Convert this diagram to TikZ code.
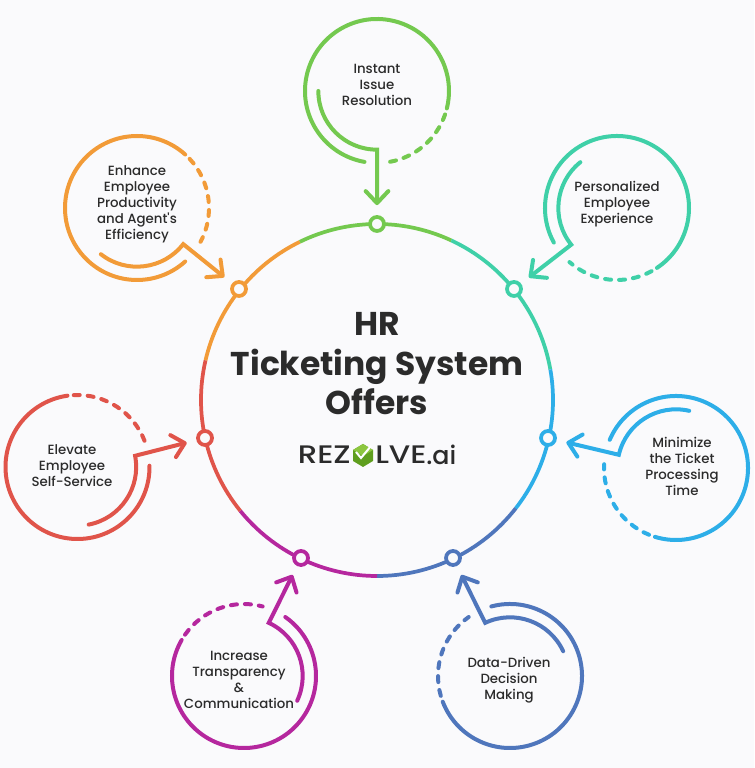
\documentclass[tikz,border=0pt]{standalone}
\usepackage{fontspec}
\setmainfont{Poppins}
\newfontfamily\offerfont{Poppins Medium}
\newfontfamily\logofont[FakeStretch=1.22]{Poppins Medium}
\usepackage{color}
\usetikzlibrary{calc,arrows.meta}
\definecolor{pagebg}{HTML}{FAFAFC}
\definecolor{textdark}{HTML}{2B2B2B}
\definecolor{offerorange}{HTML}{F29B38}
\definecolor{offergreen}{HTML}{74C94F}
\definecolor{offerteal}{HTML}{3FD0A8}
\definecolor{offerblue}{HTML}{2DAEE8}
\definecolor{offerindigo}{HTML}{4F76BC}
\definecolor{offerpurple}{HTML}{B5279E}
\definecolor{offerred}{HTML}{E0544A}
\definecolor{logogreen}{HTML}{5F9E1E}
\definecolor{logolight}{HTML}{8CC63F}
\tikzset{
  ringline/.style={line width=2.8pt},
  hub/.style={circle, draw=#1, fill=pagebg, line width=2.8pt, minimum size=10.5pt, inner sep=0pt},
  offerline/.style={line width=3pt, line cap=round},
  offerdash/.style={line width=3pt, line cap=round, dash pattern=on 4.5pt off 6pt},
  offerarrow/.style={line width=3pt, line cap=round, line join=miter, shorten >=7.5pt,
    -{Straight Barb[round,length=9pt,width=17pt]}},
  offertext/.style={align=center, inner sep=0pt, text=textdark, font=\offerfont\fontsize{10}{12}\selectfont},
  logotext/.style={inner sep=0pt, text=textdark, font=\logofont\fontsize{19}{19}\selectfont}
}
\newcommand{\offerloop}[5]{%
  \draw[offerline,#2] ([shift={(#3-10:54pt)}]#1) arc[start angle=#3-10,end angle=#3-#5,radius=54pt];
  \draw[offerdash,#2] ([shift={(#3-#5-5:54pt)}]#1) arc[start angle=#3-#5-5,end angle=#3-350,radius=54pt];
  \draw[offerarrow,#2] ([shift={(#3-90:44pt)}]#1) arc[start angle=#3-90,end angle=#3,radius=44pt] -- (#4);
}
\begin{document}
\begin{tikzpicture}[x=0.75pt, y=0.75pt]
\fill[pagebg] (0,0) rectangle (754,768);
\useasboundingbox (0,0) rectangle (754,768);

\coordinate (ring) at (377,368);
\draw[ringline, offerorange] ([shift={(167:132pt)}]ring) arc[start angle=167,end angle=116,radius=132pt];
\draw[ringline, offergreen] ([shift={(116:132pt)}]ring) arc[start angle=116,end angle=65,radius=132pt];
\draw[ringline, offerteal] ([shift={(65:132pt)}]ring) arc[start angle=65,end angle=10,radius=132pt];
\draw[ringline, offerblue] ([shift={(10:132pt)}]ring) arc[start angle=10,end angle=-38,radius=132pt];
\draw[ringline, offerindigo] ([shift={(-38:132pt)}]ring) arc[start angle=-38,end angle=-90,radius=132pt];
\draw[ringline, offerpurple] ([shift={(-90:132pt)}]ring) arc[start angle=-90,end angle=-141,radius=132pt];
\draw[ringline, offerred] ([shift={(-141:132pt)}]ring) arc[start angle=-141,end angle=-193,radius=132pt];

\node[hub=offergreen] (hubgreen) at (377,544) {};
\node[hub=offerteal] (hubteal) at (514,479) {};
\node[hub=offerblue] (hubblue) at (548,330) {};
\node[hub=offerindigo] (hubindigo) at (453,210) {};
\node[hub=offerpurple] (hubpurple) at (301,210) {};
\node[hub=offerred] (hubred) at (205,330) {};
\node[hub=offerorange] (huborange) at (239,479) {};

\coordinate (cgreen) at (377,677);
\coordinate (corange) at (137,560);
\coordinate (cteal) at (617,560);
\coordinate (cred) at (77.5,301);
\coordinate (cblue) at (676,300);
\coordinate (cpurple) at (244,92);
\coordinate (cindigo) at (510,92);
\offerloop{cgreen}{offergreen}{270}{hubgreen}{284}
\offerloop{corange}{offerorange}{-38}{huborange}{274}
\offerloop{cteal}{offerteal}{218.7}{hubteal}{275}
\offerloop{cred}{offerred}{11}{hubred}{273}
\offerloop{cblue}{offerblue}{167}{hubblue}{274}
\offerloop{cpurple}{offerpurple}{65}{hubpurple}{275}
\offerloop{cindigo}{offerindigo}{115}{hubindigo}{274}

\node[offertext] (txtgreen) at (377,683) {Instant\\Issue\\Resolution};
\node[offertext] (txtorange) at (137,564) {Enhance\\Employee\\Productivity\\and Agent's\\Efficiency};
\node[offertext] (txtteal) at (617,564) {Personalized\\Employee\\Experience};
\node[offertext] (txtred) at (72,302) {Elevate\\Employee\\Self-Service};
\node[offertext] (txtblue) at (682,302) {Minimize\\the Ticket\\Processing\\Time};
\node[offertext] (txtpurple) at (239,88) {Increase\\Transparency\\\&\\Communication};
\node[offertext] (txtindigo) at (509,88) {Data-Driven\\Decision\\Making};

\node[align=center, inner sep=0pt, text=textdark, font=\fontsize{24.7}{29.6}\selectfont\bfseries] (title) at (377,404)
{HR\\Ticketing System\\Offers};

\node[logotext, anchor=east] (logorez) at (351,313) {REZ};
\node[logotext, anchor=west] (logolve) at (375,313) {LVE};
\node[inner sep=0pt, text=textdark, font=\offerfont\fontsize{19}{19}\selectfont, anchor=west] (logoai) at (426,313) {.ai};
\fill[logogreen] (363,324) -- (373,318) -- (373,307) -- (363,301) -- (353,307) -- (353,318) -- cycle;
\fill[logolight] (363,324) -- (373,318) -- (363,312) -- (353,318) -- cycle;
\draw[white, line width=1.5pt] (356,316) -- (361,310) -- (371,322);
\end{tikzpicture}
\end{document}
